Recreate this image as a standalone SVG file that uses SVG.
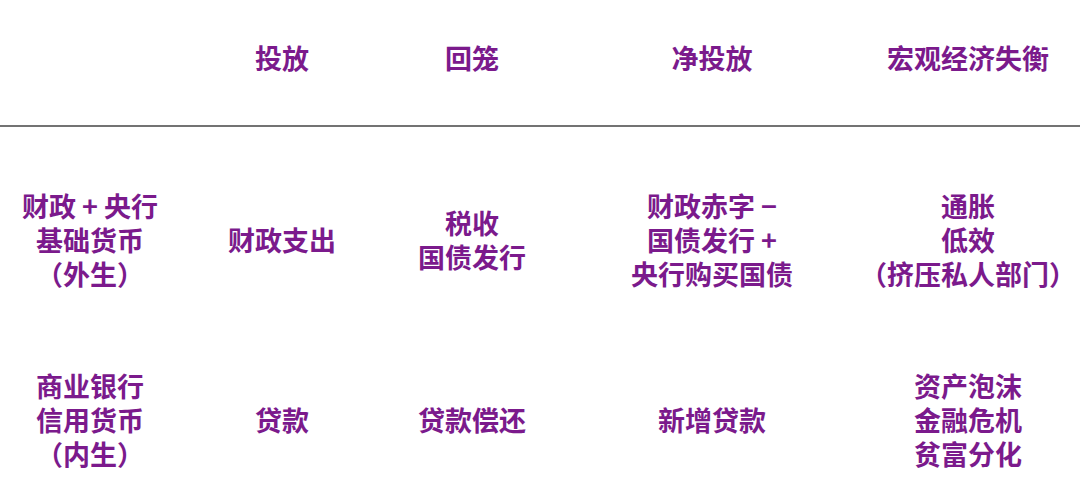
<svg xmlns="http://www.w3.org/2000/svg" width="1080" height="485" viewBox="0 0 1080 485">
<style>
text{font-family:"Noto Sans CJK SC","Noto Sans",sans-serif;font-weight:bold;font-size:27px;fill:#7B1A8C;text-anchor:middle;dominant-baseline:central}
</style>
<rect width="1080" height="485" fill="#fff"/>
<g id="header">
<text x="282" y="57">投放</text><text x="472" y="57">回笼</text><text x="712" y="57">净投放</text><text x="968" y="57">宏观经济失衡</text>
</g>
<g id="connectors"><line x1="0" y1="126" x2="1080" y2="126" stroke="#444" stroke-width="1.5"/></g>
<g id="row1">
<text x="90" y="205" xml:space="preserve">财政 + 央行</text><text x="90" y="239">基础货币</text><text x="90" y="273">（外生）</text>
<text x="282" y="239">财政支出</text>
<text x="472" y="222">税收</text><text x="472" y="256">国债发行</text>
<text x="712" y="205">财政赤字 −</text><text x="712" y="239">国债发行 +</text><text x="712" y="273">央行购买国债</text>
<text x="968" y="205">通胀</text><text x="968" y="239">低效</text><text x="968" y="273">（挤压私人部门）</text>
</g>
<g id="row2">
<text x="90" y="385">商业银行</text><text x="90" y="419">信用货币</text><text x="90" y="453">（内生）</text>
<text x="282" y="419">贷款</text>
<text x="472" y="419">贷款偿还</text>
<text x="712" y="419">新增贷款</text>
<text x="968" y="385">资产泡沫</text><text x="968" y="419">金融危机</text><text x="968" y="453">贫富分化</text>
</g>
</svg>
